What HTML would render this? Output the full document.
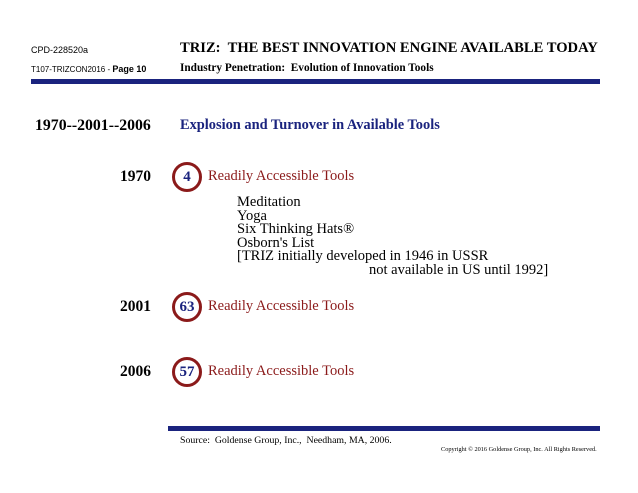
<!DOCTYPE html>
<html><head><meta charset="utf-8"><style>
body{margin:0;width:638px;height:493px;background:#fff;position:relative;overflow:hidden;font-family:"Liberation Serif",serif}
.a{position:absolute;white-space:nowrap;line-height:1}
.s{font-family:"Liberation Sans",sans-serif}
.c{position:absolute;width:24px;height:24px;border:3px solid #8b1a1a;border-radius:50%;color:#1a237e;font-weight:bold;font-size:15px;text-align:center;line-height:24px}
.red{color:#8b1a1a;font-size:14.5px}
.yr{font-weight:bold;font-size:15.5px}
.it{font-size:14.5px;line-height:13.5px;position:absolute;left:237px;top:196px;white-space:nowrap}
</style></head><body>
<div class="a s" style="left:31px;top:46px;font-size:9px">CPD-228520a</div>
<div class="a s" style="left:31px;top:65px;font-size:8px">T107-TRIZCON2016 - <b style="font-size:9px">Page 10</b></div>
<div class="a" style="left:180px;top:41px;font-size:14.6px;font-weight:bold">TRIZ:&nbsp; THE BEST INNOVATION ENGINE AVAILABLE TODAY</div>
<div class="a" style="left:180px;top:63px;font-size:11.3px;font-weight:bold">Industry Penetration:&nbsp; Evolution of Innovation Tools</div>
<div class="a" style="left:31px;top:79px;width:569px;height:5px;background:#1a237e"></div>
<div class="a" style="left:35px;top:118px;font-size:15.8px;font-weight:bold">1970--2001--2006</div>
<div class="a" style="left:180px;top:118px;font-size:14.4px;font-weight:bold;color:#1a237e">Explosion and Turnover in Available Tools</div>

<div class="a yr" style="left:120px;top:169px">1970</div>
<div class="c" style="left:172px;top:162px">4</div>
<div class="a red" style="left:208px;top:169px">Readily Accessible Tools</div>
<div class="it">Meditation<br>Yoga<br>Six Thinking Hats®<br>Osborn's List<br>[TRIZ initially developed in 1946 in USSR<br><span style="padding-left:132px">not available in US until 1992]</span></div>

<div class="a yr" style="left:120px;top:299px">2001</div>
<div class="c" style="left:172px;top:292px">63</div>
<div class="a red" style="left:208px;top:299px">Readily Accessible Tools</div>

<div class="a yr" style="left:120px;top:364px">2006</div>
<div class="c" style="left:172px;top:357px">57</div>
<div class="a red" style="left:208px;top:364px">Readily Accessible Tools</div>

<div class="a" style="left:168px;top:426px;width:432px;height:5px;background:#1a237e"></div>
<div class="a" style="left:180px;top:436px;font-size:9.8px">Source:&nbsp; Goldense Group, Inc.,&nbsp; Needham, MA, 2006.</div>
<div class="a" style="left:441px;top:447px;font-size:6.3px">Copyright © 2016 Goldense Group, Inc. All Rights Reserved.</div>
</body></html>
